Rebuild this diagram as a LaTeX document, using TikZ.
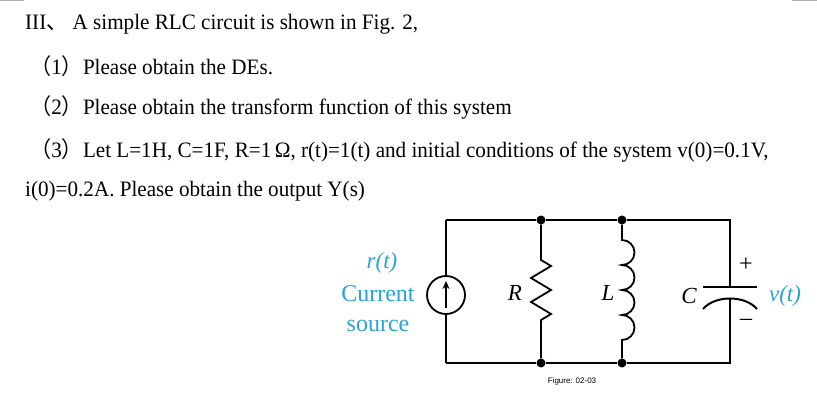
\documentclass[tikz,border=0pt]{standalone}
\usepackage{fontspec}
\setmainfont{Liberation Serif}
\newfontfamily\cjk{Noto Sans CJK SC}
\newfontfamily\sans{Liberation Sans}
\usetikzlibrary{arrows.meta}
\definecolor{cy}{HTML}{2AA3D2}
\newcommand{\sq}[1]{\scalebox{0.96}[1]{#1}}
\begin{document}
\begin{tikzpicture}[x=1pt,y=-1pt,
  txt/.style={anchor=west,inner sep=0pt,font=\fontsize{22}{24}\selectfont},
  lab/.style={inner sep=0pt,text=cy,font=\fontsize{24}{26}\selectfont},
  wire/.style={line width=1.8pt},
  dot/.style={circle,fill=black,inner sep=0pt,minimum size=9pt}]
\useasboundingbox (0,0) rectangle (817,406);
\draw[gray!60,line width=1pt] (0,1) -- (24,1) (792,1) -- (817,1);
\node[txt] (t1) at (25,24) {\sq{III{\cjk 、} A simple RLC circuit is shown in Fig. 2,}};
\node[txt] (t2) at (30,66) {\sq{{\cjk （}1{\cjk ）}Please obtain the DEs.}};
\node[txt] (t3) at (30,107) {\sq{{\cjk （}2{\cjk ）}Please obtain the transform function of this system}};
\node[txt] (t4) at (30,150) {\sq{{\cjk （}3{\cjk ）}Let L=1H, C=1F, R=1\,Ω, r(t)=1(t) and initial conditions of the system v(0)=0.1V,}};
\node[txt] (t5) at (25,191) {\sq{i(0)=0.2A. Please obtain the output Y(s)}};
% circuit
\coordinate (tl) at (446,220); \coordinate (bl) at (446,363);
\coordinate (tr) at (730,220); \coordinate (br) at (730,363);
\node[dot] (rt) at (541,220) {}; \node[dot] (lt) at (622,220) {};
\node[dot] (rb) at (541,363) {}; \node[dot] (lb) at (622,363) {};
\node[circle,draw,wire,minimum size=38pt,inner sep=0pt] (src) at (446,295) {};
\draw[wire] (tl) -- (rt) -- (lt) -- (tr) -- (730,287);
\draw[wire] (bl) -- (rb) -- (lb) -- (br) -- (730,298);
\draw[wire] (tl) -- (src.north) (src.south) -- (bl);
\draw[wire,-{Stealth[length=8pt,width=7pt]}] (446,308) -- (446,281);
% resistor
\draw[wire] (rt) -- (541,260) -- (551,266) -- (531,278) -- (551,290) -- (531,302) -- (551,314) -- (541,320) -- (rb);
% inductor
\draw[wire] (lt) -- (622,240)
  arc[start angle=-90,end angle=90,radius=12.5] arc[start angle=-90,end angle=90,radius=12.5]
  arc[start angle=-90,end angle=90,radius=12.5] arc[start angle=-90,end angle=90,radius=12.5]
  -- (lb);
% capacitor
\draw[line width=2pt] (703,287) -- (757,287);
\draw[line width=2pt] (703,309) .. controls (715,295) and (745,295) .. (757,309);
\node[inner sep=0pt,font=\fontsize{24}{26}\selectfont] (pl) at (746,265) {+};
\node[inner sep=0pt,font=\fontsize{24}{26}\selectfont] (mi) at (746,322) {--};
\node[inner sep=0pt,font=\itshape\fontsize{23}{26}\selectfont] (cl) at (689,296) {C};
\node[inner sep=0pt,font=\itshape\fontsize{23}{26}\selectfont] (rl) at (515,293) {R};
\node[inner sep=0pt,font=\itshape\fontsize{23}{26}\selectfont] (ll) at (608,293) {L};
\node[lab,font=\itshape\fontsize{23}{26}\selectfont] (vt) at (785,296) {v(t)};
\node[lab,font=\itshape\fontsize{23}{26}\selectfont] (rr) at (382,263) {r(t)};
\node[lab] (cu) at (378,294) {Current};
\node[lab] (so) at (378,326) {source};
\node[inner sep=0pt,font=\sans\fontsize{8}{9}\selectfont] (fig) at (572,381) {Figure: 02-03};
\end{tikzpicture}
\end{document}
